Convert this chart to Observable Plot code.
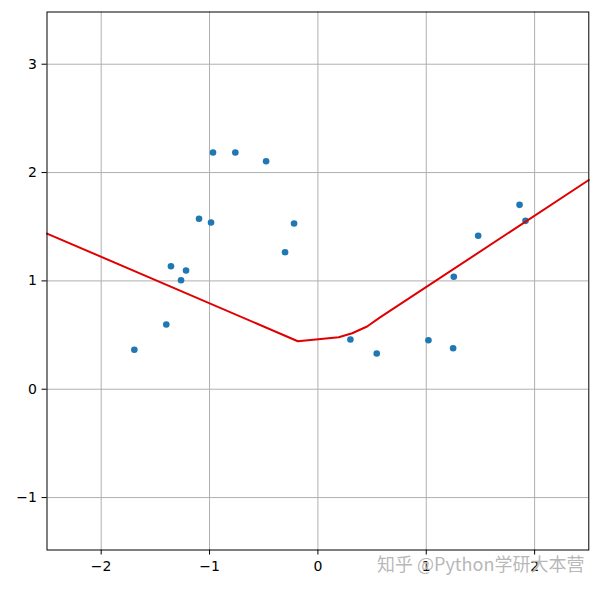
<!DOCTYPE html>
<html>
<head>
<meta charset="utf-8">
<script src="https://cdn.jsdelivr.net/npm/d3@7"></script>
<script src="https://cdn.jsdelivr.net/npm/@observablehq/plot@0.6"></script>
<style>
  html, body { margin: 0; padding: 0; background: #fff; }
  #wrap { position: relative; width: 600px; height: 589px; }
  #wrap svg text { font-size: 14px; font-family: "DejaVu Sans", sans-serif; }
  #wm { position: absolute; left: 377px; top: 550px; font-family: "Noto Sans CJK SC", "DejaVu Sans", sans-serif;
        font-size: 18px; color: rgba(160,160,160,0.75); white-space: nowrap;
        text-shadow: 0 0 1px #fff; }
</style>
</head>
<body>
<div id="wrap"><div id="wm">知乎 @Python学研大本营</div></div>
<script>
const pointX = [-0.968, -0.762, -0.478, -1.097, -0.986, -0.220, -0.303, -1.356, -1.217, -1.263, -1.399, -1.694,
                0.300, 0.543, 1.020, 1.248, 1.254, 1.479, 1.861, 1.916];
const pointY = [2.185, 2.185, 2.105, 1.573, 1.539, 1.530, 1.265, 1.135, 1.096, 1.006, 0.597, 0.364,
                0.459, 0.330, 0.452, 0.378, 1.038, 1.416, 1.702, 1.554];
const lineX = [-2.5, -0.185, 0.192, 0.316, 0.454, 0.577, 2.5];
const lineY = [1.437, 0.443, 0.480, 0.517, 0.579, 0.665, 1.931];
const xTicks = [-2, -1, 0, 1, 2];
const yTicks = [-1, 0, 1, 2, 3];

const points = pointX.map((x, i) => ({x, y: pointY[i]}));
const line = lineX.map((x, i) => ({x, y: lineY[i]}));
const fmt = d3.format("d");

const chart = Plot.plot({
  width: 600,
  height: 589,
  marginLeft: 46.5,
  marginRight: 11.7,
  marginTop: 11.5,
  marginBottom: 39.5,
  style: {fontFamily: "DejaVu Sans", fontSize: "14px", background: "white", color: "black"},
  x: {domain: [-2.5, 2.5]},
  y: {domain: [-1.484, 3.482]},
  marks: [
    Plot.gridX(xTicks, {stroke: "#b0b0b0", strokeOpacity: 1, strokeWidth: 1}),
    Plot.gridY(yTicks, {stroke: "#b0b0b0", strokeOpacity: 1, strokeWidth: 1}),
    Plot.axisX({ticks: xTicks, tickFormat: fmt, tickSize: 5, tickPadding: 6, label: null}),
    Plot.axisY({ticks: yTicks, tickFormat: fmt, tickSize: 5, tickPadding: 5, label: null}),
    Plot.dot(points, {x: "x", y: "y", r: 3.3, fill: "#1f77b4", stroke: "none"}),
    Plot.line(line, {x: "x", y: "y", stroke: "#e00000", strokeWidth: 2}),
    Plot.frame({stroke: "black", strokeWidth: 1})
  ]
});
document.getElementById("wrap").prepend(chart);
</script>
</body>
</html>
